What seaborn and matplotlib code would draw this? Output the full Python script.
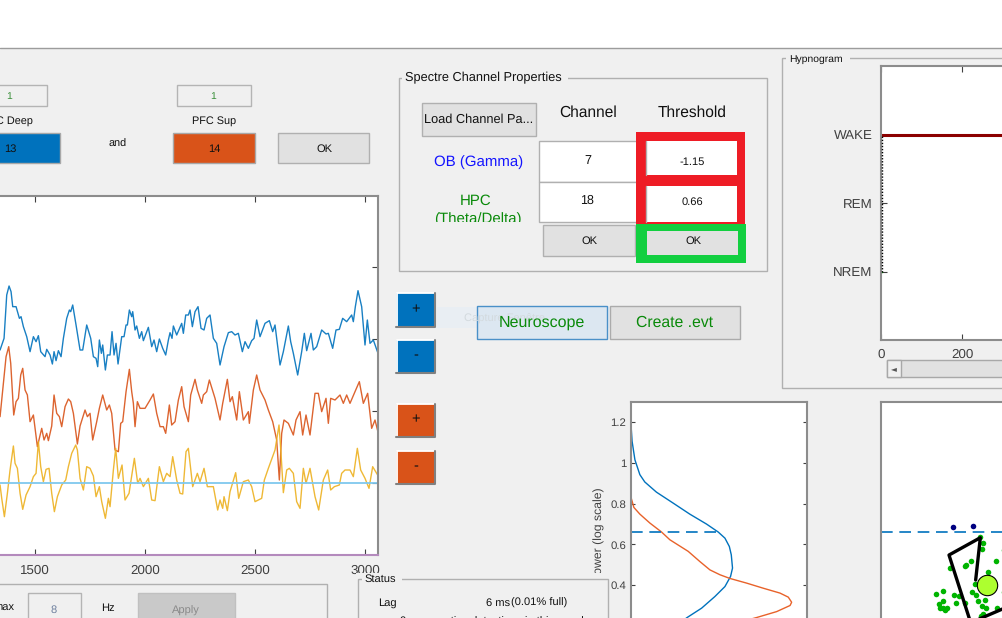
import numpy as np
import pandas as pd
import matplotlib
matplotlib.use("Agg")
import matplotlib.pyplot as plt
from matplotlib.patches import Rectangle
import seaborn as sns

# ---------- data (trace readings in raw reading units) ----------
blue_read = [(0,480),(5,465),(12,445),(20,315),(27,288),(33,305),(38,350),(48,350),(58,385),(63,380),(70,410),(80,440),(90,485),(100,440),(108,455),(115,437),(122,485),(135,500),(140,478),(150,495),(157,522),(162,485),(168,512),(175,482),(183,500),(190,445),(200,385),(208,360),(212,365),(218,345),(228,405),(240,480),(248,480),(260,405),(272,445),(280,500),(288,505),(293,530),(298,450),(304,490),(308,465),(316,540),(322,495),(330,495),(336,425),(342,495),(348,460),(354,522),(365,440),(372,440),(378,405),(382,405),(388,360),(395,380),(398,365),(405,420),(410,408),(418,445),(425,425),(430,452),(445,412),(455,470),(462,450),(470,485),(478,447),(488,475),(497,495),(505,450),(510,428),(516,445),(520,408),(530,435),(545,400),(550,430),(557,375),(565,375),(570,360),(577,410),(585,365),(594,350),(603,415),(612,420),(620,385),(630,375),(640,445),(650,460),(660,525),(672,470),(685,428),(695,425),(705,435),(715,430),(727,485),(735,455),(745,475),(755,452),(762,445),(770,390),(780,440),(795,400),(808,392),(818,425),(825,405),(840,525),(850,485),(865,408),(872,455),(880,490),(893,555),(905,485),(913,430),(920,482),(933,430),(940,480),(950,470),(965,420),(978,432),(985,430),(998,475),(1008,420),(1018,418),(1028,385),(1040,395),(1055,375),(1060,395),(1066,350),(1074,302),(1085,350),(1095,465),(1102,390),(1110,460),(1120,450),(1133,487)]
orange_read = [(0,140),(18,-40),(26,-70),(32,-20),(41,135),(48,95),(55,85),(62,15),(68,-5),(75,60),(82,75),(90,155),(100,135),(112,230),(125,175),(132,210),(140,190),(145,212),(155,168),(162,75),(170,130),(178,140),(185,170),(195,110),(205,87),(212,95),(220,130),(232,222),(240,168),(255,120),(262,140),(270,130),(278,210),(290,155),(298,115),(308,75),(320,120),(328,105),(335,130),(345,240),(355,245),(362,160),(368,155),(378,65),(388,-2),(395,65),(400,100),(405,170),(412,95),(420,115),(435,115),(450,90),(460,72),(470,130),(480,170),(490,170),(497,190),(508,105),(515,165),(525,155),(535,90),(545,50),(552,110),(565,155),(572,75),(585,28),(592,60),(605,100),(610,75),(620,65),(628,30),(645,85),(660,150),(668,100),(682,28),(690,95),(697,80),(710,150),(718,65),(730,150),(745,125),(748,160),(760,60),(770,15),(780,60),(795,90),(805,120),(818,155),(830,210),(838,330),(845,190),(852,150),(865,160),(880,195),(888,150),(900,125),(908,195),(918,135),(930,195),(945,70),(955,70),(965,125),(978,85),(985,160),(992,85),(1005,90),(1020,75),(1030,100),(1040,75),(1050,100),(1065,65),(1078,35),(1090,100),(1103,70),(1115,175),(1125,150),(1133,182)]
yellow_read = [(0,345),(5,385),(13,440),(22,370),(30,300),(40,228),(45,280),(52,295),(60,370),(68,418),(78,375),(90,350),(100,320),(108,310),(115,215),(122,290),(130,335),(138,298),(147,295),(155,370),(163,425),(172,380),(185,345),(197,330),(205,290),(215,250),(227,225),(232,240),(240,325),(250,360),(260,290),(270,295),(280,318),(288,380),(298,350),(305,395),(316,445),(325,385),(330,410),(340,300),(347,235),(355,325),(366,285),(375,390),(387,370),(403,265),(413,340),(420,325),(430,350),(445,325),(455,390),(465,392),(478,290),(490,335),(500,310),(510,320),(518,260),(530,330),(540,370),(548,372),(558,245),(565,235),(578,350),(592,310),(600,335),(612,295),(622,350),(640,350),(653,420),(660,390),(668,415),(672,380),(682,422),(690,365),(707,308),(716,385),(730,335),(745,330),(755,350),(765,395),(785,385),(793,330),(805,295),(825,240),(837,165),(843,250),(850,368),(860,300),(868,295),(880,310),(890,395),(900,415),(910,295),(918,340),(930,295),(945,380),(956,420),(970,330),(983,300),(992,360),(1003,350),(1018,345),(1025,310),(1035,300),(1050,300),(1060,320),(1072,235),(1082,300),(1095,325),(1107,355),(1118,290),(1133,315)]
baseline_level = 72
time_ticks = [1500, 2000, 2500, 3000]
amp_ticks = [72, 144, 216, 288]

power_blue = [1.303,1.2,1.107,1.016,.943,.907,.857,.803,.749,.70,.661,.631,.59,.549,.484,.443,.393,.344,.287,.241,.19]
dens_blue = [0,.002,.009,.025,.053,.081,.147,.242,.336,.431,.497,.535,.56,.571,.578,.567,.535,.478,.403,.321,.24]
power_orange = [.885,.828,.782,.749,.705,.661,.623,.566,.516,.475,.451,.433,.41,.385,.361,.341,.316,.30,.27,.241,.19]
dens_orange = [0,.004,.019,.053,.110,.176,.223,.327,.393,.450,.507,.563,.658,.752,.847,.894,.913,.904,.828,.715,.5]
power_ticks = [0.4, 0.6, 0.8, 1.0, 1.2]
power_tick_labels = ["0.4", "0.6", "0.8", "1", "1.2"]
threshold = 0.66

green_read = [(168,284),(189,275),(188,304),(176,314),(180,325),(190,327),(200,325),(196,333),(221,286),(237,291),(229,311),(256,311),(275,279),(288,287),(286,254),(295,305),(316,301),(306,320),(318,327),(352,326),(325,218),(348,186),(256,199),(259,196),(272,186),(209,207),(305,150),(308,131),(301,113),(302,350),(310,345),(372,153),(372,277)]
navy_read = [(220,84),(279,81)]
cluster_read = [(287,242),(301,115),(207,167),(272,370),(430,302)]
centroid_read = [(322,258)]

stage_names = ["NREM", "REM", "WAKE"]
hyp_t = [0, 330]
hyp_stage = [3, 3]
hyp_ticks = [0, 200]

# ---------- style ----------
sns.set_style("white")
plt.rcParams["font.family"] = ["Liberation Sans", "DejaVu Sans"]
plt.rcParams["text.hinting"] = "no_hinting"
W, H = 1003, 618
BG = "#f0f0f0"; SP = "#8c8c8c"; TK = "#404040"
BLUE = "#0072BD"; ORANGE = "#D95319"; YELLOW = "#EDB120"
fig = plt.figure(figsize=(W/100, H/100), dpi=100, facecolor=BG)

def px_axes(l, t, r, b, tick_len=4.5, pad=7, size=9.6):
    ax = fig.add_axes([l/W, 1-b/H, (r-l)/W, (b-t)/H])
    for s in ax.spines.values():
        s.set_color(SP); s.set_linewidth(1.5); s.set_visible(True)
    ax.tick_params(direction="in", length=tick_len, width=0.8, color=TK, labelcolor=TK,
                   labelsize=size, top=True, right=True, bottom=True, left=True, pad=pad)
    ax.set_facecolor("white")
    return ax

def line(ax, x, y, color, lw=1.0, **kw):
    d = pd.DataFrame({"x": x, "y": y})
    sns.lineplot(data=d, x="x", y="y", ax=ax, color=color, lw=lw, estimator=None,
                 sort=False, legend=False, **kw)
    ax.set_xlabel(""); ax.set_ylabel("")

# ---------- main traces ----------
def to_time(r):
    return 1341 + 1.515*np.array([p[0] for p in r], float)
def to_amp(r, off):
    return off - np.array([p[1] for p in r], float)/3

ax = px_axes(-60, 196, 378, 555)
line(ax, to_time(blue_read), to_amp(blue_read, 365), BLUE, alpha=.9)
line(ax, to_time(orange_read), to_amp(orange_read, 185), ORANGE, alpha=.9)
line(ax, to_time(yellow_read), to_amp(yellow_read, 185), YELLOW, alpha=.9)
line(ax, [1341, 3059], [baseline_level]*2, "#7fc8ee", lw=1.3)
ax.set_xlim(1068, 3059); ax.set_ylim(0, 359)
ax.set_xticks(time_ticks); ax.set_yticks(amp_ticks); ax.set_yticklabels([])
ax.spines["bottom"].set_color("#b48abd")

# ---------- power distribution ----------
ax2 = px_axes(630.5, 402, 807, 650, tick_len=3, pad=3, size=8.2)
line(ax2, dens_blue, power_blue, BLUE)
line(ax2, dens_orange, power_orange, "#E8622A")
line(ax2, [0, .497], [threshold]*2, BLUE, lw=1.2, dashes=(7, 4))
ax2.set_xlim(0, 1); ax2.set_ylim(1.3-248/203.5, 1.3)
ax2.set_yticks(power_ticks); ax2.set_yticklabels(power_tick_labels)
ax2.set_xticks([])
ax2.set_ylabel("Power (log scale)", fontsize=8.8, color=TK)
ax2.yaxis.set_label_coords((605-630.5)/176.5, 1-(535-402)/248)

# ---------- sleep scoring scatter ----------
ax3 = px_axes(881, 402, 1030, 650)
def to_power(r):
    return 0.8216 - np.array([p[1] for p in r], float)/610.5
def to_xs(r):
    return np.array([p[0] for p in r], float)
sns.scatterplot(x=to_xs(green_read), y=to_power(green_read), ax=ax3, color="#00b400", s=16,
                linewidth=0, legend=False, zorder=3)
sns.scatterplot(x=to_xs(navy_read), y=to_power(navy_read), ax=ax3, color="#000080", s=16,
                linewidth=0, legend=False, zorder=3)
line(ax3, to_xs(cluster_read), to_power(cluster_read), "black", lw=2.4, zorder=4)
sns.scatterplot(x=to_xs(centroid_read), y=to_power(centroid_read), ax=ax3, color="#adff2f", s=215,
                edgecolor="black", linewidth=0.8, legend=False, zorder=5)
line(ax3, [3, 450], [threshold]*2, BLUE, lw=1.2, dashes=(7, 4))
ax3.set_xlim(3, 450); ax3.set_ylim(1.3-248/203.5, 1.3)
ax3.set_xticks([]); ax3.set_yticks([])

# ---------- hypnogram ----------
ax4 = px_axes(881, 66, 1030, 340, pad=6)
ax4.plot([2, 2], [1, 3], color="black", lw=1.0, ls=(0, (1, 1.2)), zorder=5, clip_on=False)
ax4.plot([0, 3], [1, 1], color="#00a000", lw=1)
line(ax4, hyp_t, hyp_stage, "#8b0000", lw=2.2)
ax4.set_xlim(0, 367); ax4.set_ylim(0, 4)
ax4.set_xticks(hyp_ticks); ax4.set_yticks([1, 2, 3]); ax4.set_yticklabels(stage_names)

# ---------- GUI overlay ----------
ui = fig.add_axes([0, 0, 1, 1], zorder=10)
ui.set_xlim(0, W); ui.set_ylim(H, 0); ui.axis("off"); ui.patch.set_alpha(0)
EDGE = "#b0b0b0"; BTN = "#e1e1e1"; GREEN = "#0a8a0a"
def box(x0, y0, x1, y1, fc="none", ec=EDGE, lw=1.0, z=2):
    ui.add_patch(Rectangle((x0, y0), x1-x0, y1-y0, fc=fc, ec=ec, lw=lw, zorder=z, clip_on=False))
def txt(x, y, s, size=8, color="#111111", ha="center", z=6, **kw):
    return ui.text(x, y, s, fontsize=size, color=color, ha=ha, va="center", zorder=z, **kw)

# top band
box(0, 0, W, 48, fc="white", ec="none")
ui.plot([0, W], [48, 48], color="#9c9c9c", lw=1, zorder=3)

# channel selection row
box(-30, 85, 47, 105.5, ec="#b4b4b4"); txt(9, 96, "1", 7.5, "#3a8f3a")
box(177, 85, 251, 105.5, ec="#b4b4b4"); txt(213, 96, "1", 7.5, "#3a8f3a")
txt(33, 121, "C Deep", 7.8, ha="right"); txt(214, 121, "PFC Sup", 7.8)
box(-30, 133, 60.5, 163, fc=BLUE, ec="#a8a8a8"); txt(10, 149, "13", 8)
box(173, 133, 255.5, 163, fc=ORANGE, ec="#a8a8a8"); txt(214, 149, "14", 8)
txt(118, 144, "and", 7.8)
box(278, 133, 369.5, 163, fc=BTN); txt(325, 149, "OK", 8)

# spectre panel
box(399, 78, 767, 271)
box(402, 72, 568, 84, fc=BG, ec="none", z=3)
txt(405, 78, "Spectre Channel Properties", 9.2, ha="left")
box(422, 103, 536, 135.5, fc=BTN); txt(479, 119.5, "Load Channel Pa...", 9.2)
txt(588, 113, "Channel", 11.2); txt(692, 113, "Threshold", 11.2)
txt(479, 162, "OB (Gamma)", 10.8, "#1414ff")
txt(476, 201, "HPC", 10.8, GREEN)
txt(478, 219, "(Theta/Delta)", 10.8, GREEN)
box(430, 222, 536, 234, fc=BG, ec="none", z=7)
box(539.5, 141, 645, 181.5, fc="white"); box(539.5, 181.5, 645, 221.5, fc="white")
txt(588, 161, "7", 9); txt(587, 201, "18", 9)
box(636, 132, 745, 224, fc="#ee1c25", ec="none", z=3)
box(646, 140.5, 737, 175, fc="white", ec="none", z=4)
box(646, 186, 737, 221.5, fc="white", ec="none", z=4)
ui.plot([646.5, 646.5], [140.5, 175], color="#b0b0b0", lw=1, zorder=4.5)
ui.plot([646.5, 646.5], [186, 221.5], color="#b0b0b0", lw=1, zorder=4.5)
txt(692, 162, "-1.15", 8); txt(692, 202, "0.66", 8)
box(543.5, 225, 635, 255.5, fc=BTN); txt(590, 241, "OK", 8)
box(636, 223.5, 746, 262.5, fc="#12cf40", ec="none", z=5)
box(647, 231, 738, 255, fc=BTN, ec="none", z=5.5); txt(693.5, 241, "OK", 8)

# hypnogram panel
box(782, 58, 1040, 388)
box(786, 54, 850, 64, fc=BG, ec="none", z=3)
txt(789, 59, "Hypnogram", 7.5, ha="left")
box(887, 360, 1040, 377, fc=BTN, ec="#a8a8a8")
box(887, 360, 901, 377, fc=BG, ec="#a8a8a8", z=3)
txt(894, 368.5, "\u25c4", 5.5, "#555555", family=["DejaVu Sans"])

# capture overlay and buttons
box(437, 307, 630, 328, fc="#e9eef3", ec="none")
box(477.5, 305.5, 607, 338.5, fc="#dce7f1", ec="#4a90c8", z=4); txt(542, 323, "Neuroscope", 11.5, GREEN)
box(610.5, 305.5, 740, 338.5, fc=BTN, ec="#ababab", z=4); txt(675, 323, "Create .evt", 11.3, GREEN)
txt(464, 318, "Capture Fen\u00eatre", 8, "#d3dade", ha="left", z=4.5)

# +/- buttons
for (y0, y1, c, s) in [(293, 326.5, BLUE, "+"), (339.5, 373, BLUE, "-"),
                       (403.5, 437, ORANGE, "+"), (450.5, 484, ORANGE, "-")]:
    box(396, y0, 435.5, y1, fc=c, ec="none")
    ui.plot([397, 397, 435], [y1-1, y0, y0], color="white", lw=1.3, zorder=3)
    ui.plot([396, 435.5, 435.5], [y1, y1, y0], color="#808080", lw=1.5, zorder=3)
    txt(416, (y0+y1)/2 - 0.5, s, 10.5, "#111111")

# status panel (hides the end of what runs beneath it)
box(356.5, 573, 610, 630, fc=BG, ec="none", z=1)
box(358.5, 578.5, 608, 640)
box(362, 574, 402, 584, fc=BG, ec="none", z=3)
txt(365, 579, "Status", 8, ha="left")
txt(378, 603, "Lag", 8, ha="left")
txt(486, 603, "6 ms", 8, ha="left"); txt(511, 603, "(0.01% full)", 8, ha="left")
txt(400, 622, "0 consecutive detections in this epoch", 8, ha="left", clip_on=False)

# bottom-left panel
box(-20, 583.5, 327, 640)
txt(14, 608, "max", 8, ha="right")
box(28, 592.5, 81, 640, ec="#b4b4b4"); txt(54, 610, "8", 8, "#6d7f9e")
txt(108, 608, "Hz", 8)
box(138, 593, 235, 640, fc="#c9c9c9", ec="#c0c0c0"); txt(186, 611, "Apply", 8, "#8a8a8a")

fig.savefig("out.png", dpi=100, facecolor=BG)
